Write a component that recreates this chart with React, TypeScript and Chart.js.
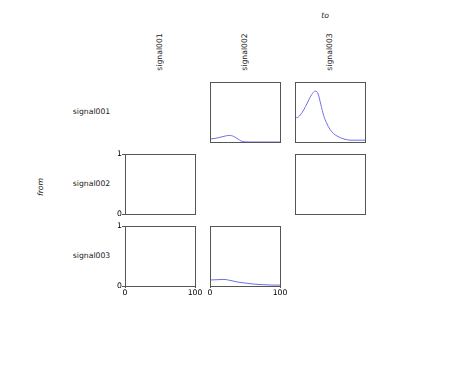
import React, { useEffect, useRef } from "react";
import { Chart, registerables } from "chart.js";

Chart.register(...registerables);

const signals = ["signal001", "signal002", "signal003"];
const xTickLabels = ["0", "100"];
const yTickLabels = ["0", "1"];

// from signal001 to signal002
const s1to2X = [0, 7, 13, 20, 27, 31, 36, 40, 44, 48, 55, 70, 100];
const s1to2Y = [0.05, 0.06, 0.075, 0.095, 0.11, 0.105, 0.08, 0.05, 0.02, 0.005, 0, 0, 0];
// from signal001 to signal003
const s1to3X = [0, 5, 10, 15, 20, 25, 29, 33, 37, 41, 45, 50, 55, 60, 65, 70, 80, 90, 100];
const s1to3Y = [0.4, 0.42, 0.49, 0.59, 0.71, 0.81, 0.85, 0.8, 0.62, 0.44, 0.32, 0.21, 0.14, 0.1, 0.07, 0.05, 0.03, 0.03, 0.03];
// from signal003 to signal002
const s3to2X = [0, 10, 20, 30, 40, 50, 60, 70, 80, 90, 100];
const s3to2Y = [0.1, 0.105, 0.11, 0.09, 0.065, 0.05, 0.035, 0.025, 0.02, 0.015, 0.015];

const PANEL_LEFT = [125, 210, 295];
const PANEL_TOP = [82, 154, 226];
const PW = 70;
const PH = 60;
const PAD_L = 25;
const PAD_T = 8;
const PAD_R = 25;
const PAD_B = 17;

const FONT = "DejaVu Sans, sans-serif";

type PanelSpec = {
  row: number;
  col: number;
  xs?: number[];
  ys?: number[];
  showX: boolean;
  showY: boolean;
};

const panels: PanelSpec[] = [
  { row: 0, col: 1, xs: s1to2X, ys: s1to2Y, showX: false, showY: false },
  { row: 0, col: 2, xs: s1to3X, ys: s1to3Y, showX: false, showY: false },
  { row: 1, col: 0, showX: false, showY: true },
  { row: 1, col: 2, showX: false, showY: false },
  { row: 2, col: 0, showX: true, showY: true },
  { row: 2, col: 1, xs: s3to2X, ys: s3to2Y, showX: true, showY: false },
];

const boxPlugin = {
  id: "box",
  afterDraw(chart: any) {
    const { ctx, chartArea } = chart;
    ctx.save();
    ctx.strokeStyle = "#555";
    ctx.lineWidth = 1;
    ctx.strokeRect(
      Math.round(chartArea.left) + 0.5,
      Math.round(chartArea.top) + 0.5,
      Math.round(chartArea.right - chartArea.left),
      Math.round(chartArea.bottom - chartArea.top)
    );
    ctx.restore();
  },
};

function Panel({ spec }: { spec: PanelSpec }) {
  const ref = useRef<HTMLCanvasElement>(null);
  useEffect(() => {
    if (!ref.current) return;
    const data =
      spec.xs && spec.ys
        ? spec.xs.map((x, i) => ({ x, y: spec.ys![i] }))
        : [];
    const chart = new Chart(ref.current, {
      type: "line",
      data: {
        datasets: [
          {
            data,
            borderColor: "#6f6fe8",
            borderWidth: 1,
            pointRadius: 0,
            cubicInterpolationMode: "monotone",
            fill: false,
          },
        ],
      },
      options: {
        animation: false,
        responsive: false,
        maintainAspectRatio: false,
        events: [],
        layout: { padding: { left: 0, top: PAD_T, right: PAD_R, bottom: 0 } },
        plugins: { legend: { display: false }, tooltip: { enabled: false } },
        scales: {
          x: {
            type: "linear",
            min: 0,
            max: 100,
            afterBuildTicks: (s: any) => {
              s.ticks = xTickLabels.map((v) => ({ value: Number(v) }));
            },
            afterFit: (s: any) => {
              s.height = PAD_B;
            },
            border: { display: false },
            grid: {
              drawOnChartArea: false,
              drawTicks: spec.showX,
              tickLength: 2,
              color: "#555",
            },
            ticks: {
              display: spec.showX,
              autoSkip: false,
              maxRotation: 0,
              padding: 0,
              color: "#000",
              font: { family: FONT, size: 7.7 },
            },
          },
          y: {
            type: "linear",
            min: 0,
            max: 1,
            afterBuildTicks: (s: any) => {
              s.ticks = yTickLabels.map((v) => ({ value: Number(v) }));
            },
            afterFit: (s: any) => {
              s.width = PAD_L;
            },
            border: { display: false },
            grid: {
              drawOnChartArea: false,
              drawTicks: spec.showY,
              tickLength: 3,
              color: "#555",
            },
            ticks: {
              display: spec.showY,
              autoSkip: false,
              padding: 0,
              color: "#000",
              font: { family: FONT, size: 7.7 },
            },
          },
        },
      },
      plugins: [boxPlugin],
    } as any);
    return () => chart.destroy();
  }, [spec]);
  const left = PANEL_LEFT[spec.col] - PAD_L;
  const top = PANEL_TOP[spec.row] - PAD_T;
  return (
    <canvas
      ref={ref}
      width={PW + PAD_L + PAD_R}
      height={PH + PAD_T + PAD_B}
      style={{
        position: "absolute",
        left,
        top,
        width: PW + PAD_L + PAD_R,
        height: PH + PAD_T + PAD_B,
      }}
    />
  );
}

const textBase: React.CSSProperties = {
  position: "absolute",
  fontFamily: FONT,
  fontSize: 7.7,
  color: "#222",
  whiteSpace: "nowrap",
  lineHeight: 1,
};

export default function App() {
  return (
    <div
      style={{
        position: "absolute",
        left: 0,
        top: 0,
        width: 474,
        height: 370,
        background: "#fff",
        overflow: "hidden",
      }}
    >
      <div
        style={{
          ...textBase,
          left: 325,
          top: 16,
          fontStyle: "italic",
          transform: "translate(-50%, -50%)",
        }}
      >
        to
      </div>
      <div
        style={{
          ...textBase,
          left: 41,
          top: 187,
          fontStyle: "italic",
          transform: "translate(-50%, -50%) rotate(-90deg)",
        }}
      >
        from
      </div>
      {signals.map((s, i) => (
        <div
          key={"c" + s}
          style={{
            ...textBase,
            left: PANEL_LEFT[i] + PW / 2,
            top: 52,
            transform: "translate(-50%, -50%) rotate(-90deg)",
          }}
        >
          {s}
        </div>
      ))}
      {signals.map((s, i) => (
        <div
          key={"r" + s}
          style={{
            ...textBase,
            left: 91.5,
            top: PANEL_TOP[i] + PH / 2,
            transform: "translate(-50%, -50%)",
          }}
        >
          {s}
        </div>
      ))}
      {panels.map((p) => (
        <Panel key={p.row + "-" + p.col} spec={p} />
      ))}
    </div>
  );
}
